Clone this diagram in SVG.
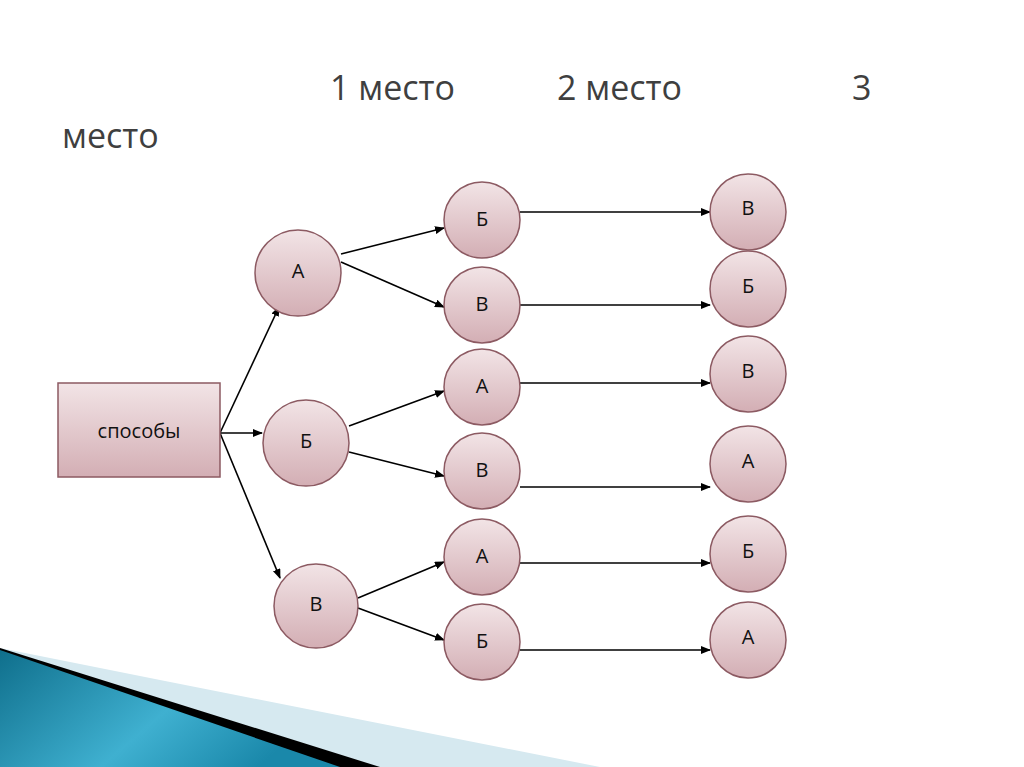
<svg xmlns="http://www.w3.org/2000/svg" width="1024" height="767" viewBox="0 0 1024 767">
<defs>
<linearGradient id="g" x1="0" y1="0" x2="0" y2="1"><stop offset="0" stop-color="#f2e4e6"/><stop offset="1" stop-color="#d3aeb4"/></linearGradient>
<linearGradient id="b" x1="0" y1="0" x2="1" y2="0.4"><stop offset="0" stop-color="#0f6f8c"/><stop offset="0.6" stop-color="#3fb0d0"/><stop offset="1" stop-color="#1a88aa"/></linearGradient>
<marker id="ar" markerWidth="10" markerHeight="8" refX="9" refY="4" orient="auto" markerUnits="userSpaceOnUse"><path d="M0,0 L10,4 L0,8 z" fill="#000"/></marker>
<style>
.n{fill:url(#g);stroke:#8c5a62;stroke-width:1.5}
.t{font-family:"Open Sans","DejaVu Sans",sans-serif;font-size:20px;fill:#111;text-anchor:middle;dominant-baseline:central}
.h{font-family:"Open Sans","DejaVu Sans",sans-serif;font-size:34px;fill:#3f3f3f}
.c line{stroke:#000;stroke-width:1.6;marker-end:url(#ar)}
</style>
</defs>
<rect width="1024" height="767" fill="#fff"/>
<polygon points="0,648 160,680 600,767 0,767" fill="#d6e9f0"/>
<polygon points="0,648 380,767 0,767" fill="#000"/>
<polygon points="0,650 340,767 0,767" fill="url(#b)"/>
<text class="h" x="330" y="100">1 место</text>
<text class="h" x="557" y="100">2 место</text>
<text class="h" x="852" y="100">3</text>
<text class="h" x="62" y="148">место</text>
<g class="c">
<line x1="220" y1="433" x2="279" y2="307"/>
<line x1="220" y1="433" x2="262" y2="433"/>
<line x1="220" y1="433" x2="280" y2="578"/>
<line x1="341" y1="254" x2="444" y2="228"/>
<line x1="341" y1="262" x2="444" y2="307"/>
<line x1="349" y1="426" x2="444" y2="391"/>
<line x1="349" y1="452" x2="444" y2="476"/>
<line x1="358" y1="598" x2="444" y2="562"/>
<line x1="358" y1="608" x2="444" y2="640"/>
<line x1="520" y1="212" x2="710" y2="212"/>
<line x1="520" y1="305" x2="710" y2="305"/>
<line x1="520" y1="383" x2="710" y2="383"/>
<line x1="520" y1="487" x2="710" y2="487"/>
<line x1="520" y1="563" x2="710" y2="563"/>
<line x1="520" y1="650" x2="710" y2="650"/>
</g>
<g id="root"><rect class="n" x="58" y="383" width="162" height="94"/><text class="t" x="139" y="430">способы</text></g>
<g id="a1"><circle class="n" cx="298" cy="273" r="43"/><text class="t" x="298" y="270">А</text></g>
<g id="b1"><circle class="n" cx="306" cy="443" r="43"/><text class="t" x="306" y="440">Б</text></g>
<g id="v1"><circle class="n" cx="316" cy="606" r="42"/><text class="t" x="316" y="603">В</text></g>
<g id="n21"><circle class="n" cx="482" cy="220" r="38"/><text class="t" x="482" y="218">Б</text></g>
<g id="n22"><circle class="n" cx="482" cy="305" r="38"/><text class="t" x="482" y="303">В</text></g>
<g id="n23"><circle class="n" cx="482" cy="387" r="38"/><text class="t" x="482" y="385">А</text></g>
<g id="n24"><circle class="n" cx="482" cy="471" r="38"/><text class="t" x="482" y="469">В</text></g>
<g id="n25"><circle class="n" cx="482" cy="557" r="38"/><text class="t" x="482" y="555">А</text></g>
<g id="n26"><circle class="n" cx="482" cy="642" r="38"/><text class="t" x="482" y="640">Б</text></g>
<g id="n31"><circle class="n" cx="748" cy="212" r="38"/><text class="t" x="748" y="207">В</text></g>
<g id="n32"><circle class="n" cx="748" cy="289" r="38"/><text class="t" x="748" y="285">Б</text></g>
<g id="n33"><circle class="n" cx="748" cy="374" r="38"/><text class="t" x="748" y="370">В</text></g>
<g id="n34"><circle class="n" cx="748" cy="464" r="38"/><text class="t" x="748" y="460">А</text></g>
<g id="n35"><circle class="n" cx="748" cy="554" r="38"/><text class="t" x="748" y="550">Б</text></g>
<g id="n36"><circle class="n" cx="748" cy="640" r="38"/><text class="t" x="748" y="636">А</text></g>
</svg>
